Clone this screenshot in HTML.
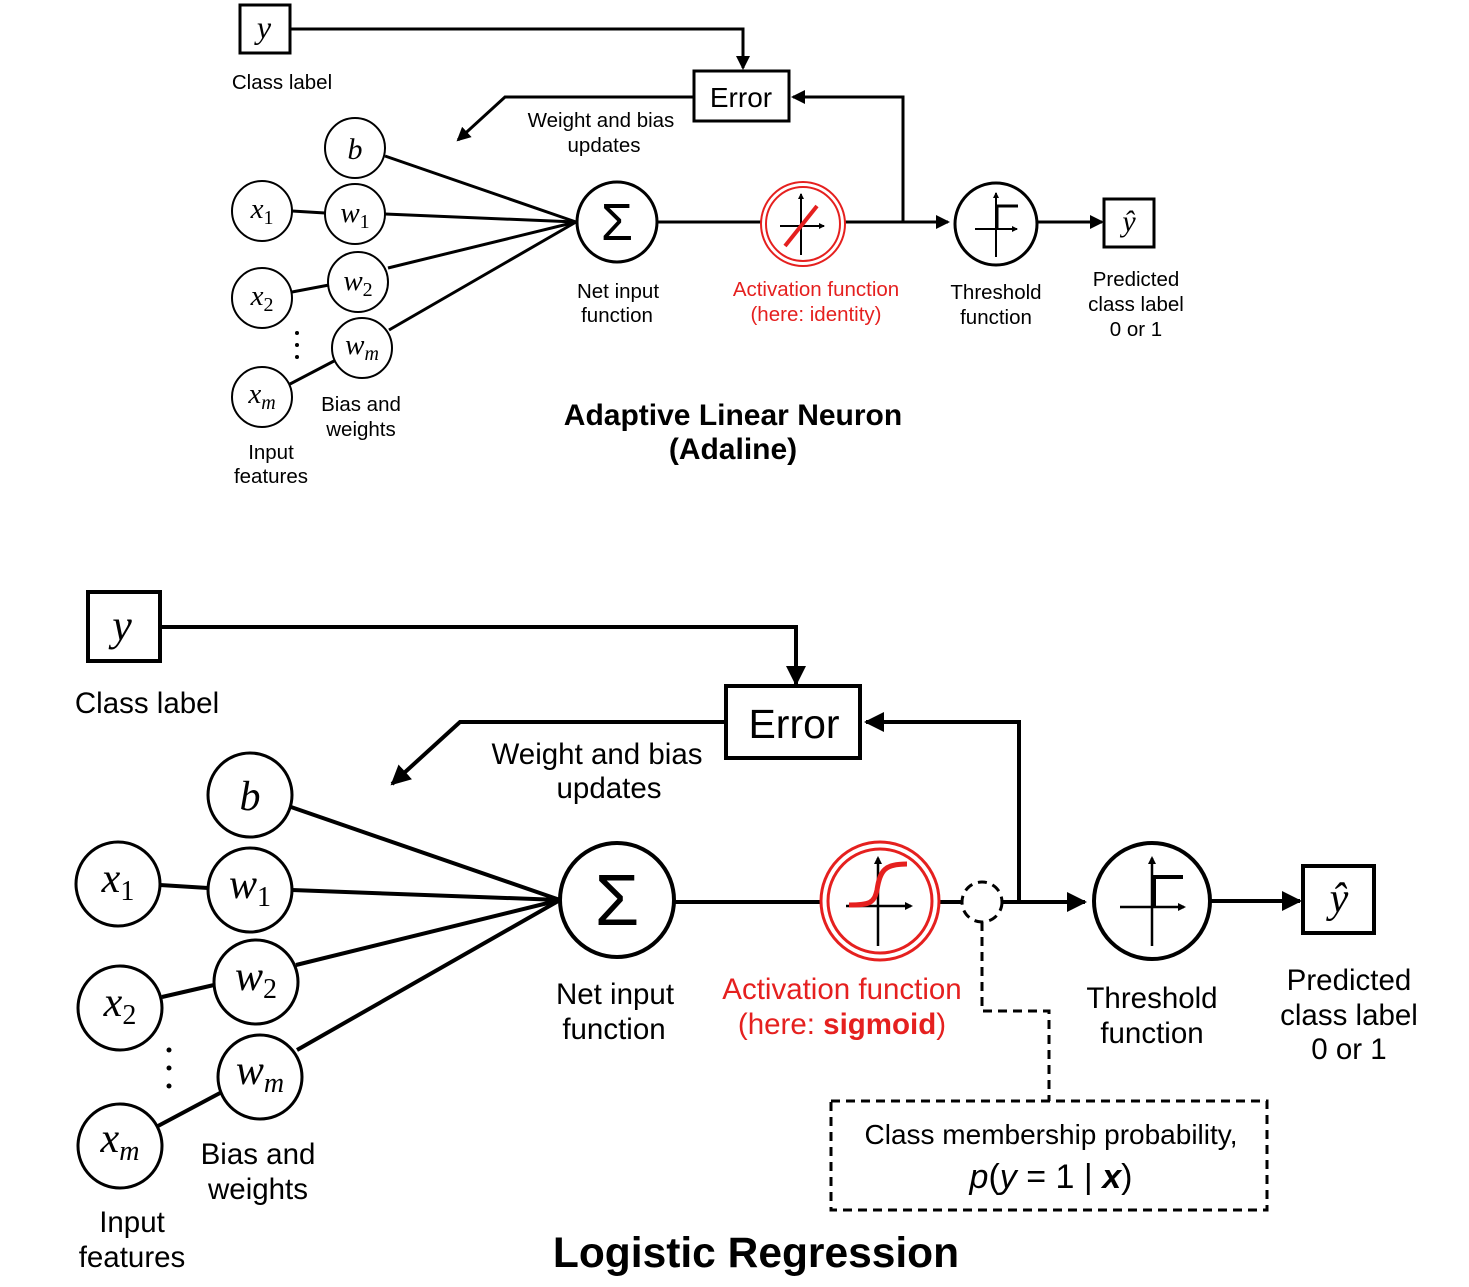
<!DOCTYPE html>
<html><head><meta charset="utf-8"><style>
html,body{margin:0;padding:0;background:#fff}
svg text{font-family:"Liberation Sans",sans-serif}
.s{font-family:"Liberation Serif",serif;font-style:italic}
</style></head><body>
<svg width="1469" height="1282" viewBox="0 0 1469 1282" xmlns="http://www.w3.org/2000/svg">
<defs>
<marker id="a" markerWidth="8" markerHeight="8" refX="6" refY="4" orient="auto" markerUnits="userSpaceOnUse" viewBox="0 0 8 8"><path d="M0,0L8,4L0,8z" fill="#000"/></marker>
<marker id="A" markerWidth="14" markerHeight="14" refX="12" refY="7" orient="auto" markerUnits="userSpaceOnUse"><path d="M0,0L14,7L0,14z" fill="#000"/></marker>
<marker id="B" markerWidth="20" markerHeight="20" refX="18" refY="10" orient="auto" markerUnits="userSpaceOnUse"><path d="M0,0L20,10L0,20z" fill="#000"/></marker>
<marker id="s" markerWidth="6" markerHeight="6" refX="5" refY="3" orient="auto" markerUnits="userSpaceOnUse"><path d="M0,0L6,3L0,6z" fill="#000"/></marker>
</defs>

<!-- TOP -->
<g stroke="#000" stroke-width="3" fill="none">
<rect x="240" y="5" width="50" height="48"/>
<polyline points="290,29 743,29 743,68" marker-end="url(#A)"/>
<rect x="694" y="71" width="95" height="50"/>
<polyline points="694,97 505,97 458,140" marker-end="url(#A)"/>
<polyline points="903,222 903,97 793,97" marker-end="url(#A)"/>
<circle cx="355" cy="148" r="30" stroke-width="2"/>
<circle cx="355" cy="214" r="30" stroke-width="2"/>
<circle cx="358" cy="282" r="30" stroke-width="2"/>
<circle cx="362" cy="348" r="30" stroke-width="2"/>
<circle cx="262" cy="211" r="30" stroke-width="2"/>
<circle cx="262" cy="298" r="30" stroke-width="2"/>
<circle cx="262" cy="397" r="30" stroke-width="2"/>
<line x1="292" y1="211" x2="325" y2="213"/>
<line x1="292" y1="292" x2="329" y2="285"/>
<line x1="290" y1="384" x2="334" y2="361"/>
<line x1="385" y1="156" x2="576" y2="222"/>
<line x1="385" y1="214" x2="576" y2="222"/>
<line x1="388" y1="268" x2="576" y2="222"/>
<line x1="389" y1="330" x2="576" y2="222"/>
<circle cx="617" cy="222" r="40"/>
<line x1="657" y1="222" x2="761" y2="222"/>
<line x1="845" y1="222" x2="948" y2="222" marker-end="url(#A)"/>
<circle cx="996" cy="224" r="41"/>
<line x1="1037" y1="222" x2="1102" y2="222" marker-end="url(#A)"/>
<rect x="1104" y="199" width="50" height="48"/>
</g>
<g fill="#000"><circle cx="297" cy="333" r="2"/><circle cx="297" cy="345" r="2"/><circle cx="297" cy="357" r="2"/></g>
<g fill="none" stroke="#e5201f" stroke-width="2"><circle cx="803" cy="224" r="42"/><circle cx="803" cy="224" r="37"/></g>
<g stroke="#000" stroke-width="2" fill="none">
<line x1="801" y1="255" x2="801" y2="194" marker-end="url(#s)"/>
<line x1="780" y1="226" x2="824" y2="226" marker-end="url(#s)"/>
<line x1="996" y1="257" x2="996" y2="193" marker-end="url(#s)"/>
<line x1="975" y1="229" x2="1017" y2="229" marker-end="url(#s)"/>
<polyline points="997,229 997,206 1018,206" stroke-width="3"/>
</g>
<line x1="785" y1="246" x2="817" y2="206" stroke="#e5201f" stroke-width="4"/>
<text x="617" y="240" font-size="52" text-anchor="middle">Σ</text>
<g font-size="20.5" text-anchor="middle">
<text class="s" x="264" y="38" font-size="32">y</text>
<text x="282" y="89">Class label</text>
<text x="741" y="107" font-size="28">Error</text>
<text x="601" y="127">Weight and bias</text>
<text x="604" y="152">updates</text>
<text x="618" y="298">Net input</text>
<text x="617" y="322">function</text>
<text x="816" y="296" fill="#e5201f">Activation function</text>
<text x="816" y="321" fill="#e5201f">(here: identity)</text>
<text x="996" y="299">Threshold</text>
<text x="996" y="324">function</text>
<text x="1136" y="286">Predicted</text>
<text x="1136" y="311">class label</text>
<text x="1136" y="336">0 or 1</text>
<text x="361" y="411">Bias and</text>
<text x="361" y="436">weights</text>
<text x="271" y="459">Input</text>
<text x="271" y="483">features</text>
<text x="733" y="425" font-size="30" font-weight="bold">Adaptive Linear Neuron</text>
<text x="733" y="459" font-size="30" font-weight="bold">(Adaline)</text>
<text class="s" x="355" y="159" font-size="30">b</text>
<text class="s" x="355" y="222" font-size="29">w<tspan font-size="20" font-style="normal" dy="6">1</tspan></text>
<text class="s" x="358" y="290" font-size="29">w<tspan font-size="20" font-style="normal" dy="6">2</tspan></text>
<text class="s" x="362" y="354" font-size="29">w<tspan font-size="20" dy="6">m</tspan></text>
<text class="s" x="262" y="218" font-size="29">x<tspan font-size="20" font-style="normal" dy="6">1</tspan></text>
<text class="s" x="262" y="305" font-size="29">x<tspan font-size="20" font-style="normal" dy="6">2</tspan></text>
<text class="s" x="262" y="403" font-size="29">x<tspan font-size="20" dy="6">m</tspan></text>
<text class="s" x="1129" y="231" font-size="30">ŷ</text>
</g>

<!-- BOTTOM -->
<g stroke="#000" stroke-width="4" fill="none">
<rect x="88" y="592" width="72" height="69"/>
<polyline points="160,627 796,627 796,684" marker-end="url(#B)"/>
<rect x="726" y="686" width="134" height="72"/>
<polyline points="726,722 460,722 392,784" marker-end="url(#B)"/>
<polyline points="1019,900 1019,722 866,722" marker-end="url(#B)"/>
<g stroke-width="3">
<circle cx="250" cy="795" r="42"/>
<circle cx="250" cy="890" r="42"/>
<circle cx="256" cy="982" r="42"/>
<circle cx="260" cy="1077" r="42"/>
<circle cx="118" cy="884" r="42"/>
<circle cx="120" cy="1008" r="42"/>
<circle cx="120" cy="1146" r="42"/>
</g>
<line x1="160" y1="885" x2="208" y2="888"/>
<line x1="162" y1="997" x2="214" y2="985"/>
<line x1="158" y1="1126" x2="220" y2="1093"/>
<line x1="291" y1="807" x2="560" y2="900"/>
<line x1="292" y1="890" x2="560" y2="900"/>
<line x1="296" y1="965" x2="560" y2="900"/>
<line x1="297" y1="1050" x2="560" y2="900"/>
<circle cx="617" cy="900" r="57"/>
<line x1="674" y1="902" x2="820" y2="902"/>
<line x1="939" y1="902" x2="962" y2="902"/>
<line x1="1002" y1="902" x2="1085" y2="902" marker-end="url(#B)"/>
<circle cx="1152" cy="901" r="58"/>
<line x1="1210" y1="901" x2="1300" y2="901" marker-end="url(#B)"/>
<rect x="1303" y="866" width="71" height="67"/>
</g>
<g fill="#000"><circle cx="169" cy="1050" r="2.5"/><circle cx="169" cy="1068" r="2.5"/><circle cx="169" cy="1086" r="2.5"/></g>
<g fill="none" stroke="#000" stroke-width="3" stroke-dasharray="9,6">
<circle cx="982" cy="902" r="20"/>
<polyline points="982,922 982,1011 1049,1011 1049,1101"/>
<rect x="831" y="1101" width="436" height="109"/>
</g>
<g fill="none" stroke="#e5201f" stroke-width="3"><circle cx="880" cy="901" r="59"/><circle cx="880" cy="901" r="52"/></g>
<g stroke="#000" stroke-width="2.5" fill="none">
<line x1="878" y1="946" x2="878" y2="858" marker-end="url(#a)"/>
<line x1="846" y1="906" x2="911" y2="906" marker-end="url(#a)"/>
<line x1="1152" y1="946" x2="1152" y2="858" marker-end="url(#a)"/>
<line x1="1120" y1="907" x2="1184" y2="907" marker-end="url(#a)"/>
<polyline points="1154,906 1154,877 1183,877" stroke-width="4"/>
</g>
<path d="M849,905 C870,905 874,903 877,890 C880,870 885,864 907,864" stroke="#e5201f" stroke-width="5" fill="none"/>
<text x="617" y="925" font-size="72" text-anchor="middle">Σ</text>
<g font-size="29.5" text-anchor="middle">
<text class="s" x="122" y="640" font-size="44">y</text>
<text x="147" y="713">Class label</text>
<text x="794" y="738" font-size="41">Error</text>
<text x="597" y="764">Weight and bias</text>
<text x="609" y="798">updates</text>
<text x="615" y="1004">Net input</text>
<text x="614" y="1039">function</text>
<text x="842" y="999" fill="#e5201f">Activation function</text>
<text x="842" y="1034" fill="#e5201f">(here: <tspan font-weight="bold">sigmoid</tspan>)</text>
<text x="1152" y="1008">Threshold</text>
<text x="1152" y="1043">function</text>
<text x="1349" y="990">Predicted</text>
<text x="1349" y="1025">class label</text>
<text x="1349" y="1059">0 or 1</text>
<text x="258" y="1164">Bias and</text>
<text x="258" y="1199">weights</text>
<text x="132" y="1232">Input</text>
<text x="132" y="1267">features</text>
<text x="1051" y="1144" font-size="28">Class membership probability,</text>
<text x="1051" y="1188" font-size="34" font-family="Liberation Serif"><tspan font-style="italic">p</tspan>(<tspan font-style="italic">y</tspan> = 1 | <tspan font-style="italic" font-weight="bold">x</tspan>)</text>
<text x="756" y="1267" font-size="42.5" font-weight="bold">Logistic Regression</text>
<text class="s" x="250" y="810" font-size="42">b</text>
<text class="s" x="250" y="898" font-size="42">w<tspan font-size="28" font-style="normal" dy="8">1</tspan></text>
<text class="s" x="256" y="990" font-size="42">w<tspan font-size="28" font-style="normal" dy="8">2</tspan></text>
<text class="s" x="260" y="1084" font-size="42">w<tspan font-size="28" dy="8">m</tspan></text>
<text class="s" x="118" y="892" font-size="42">x<tspan font-size="28" font-style="normal" dy="8">1</tspan></text>
<text class="s" x="120" y="1016" font-size="42">x<tspan font-size="28" font-style="normal" dy="8">2</tspan></text>
<text class="s" x="120" y="1152" font-size="42">x<tspan font-size="28" dy="8">m</tspan></text>
<text class="s" x="1339" y="912" font-size="42">ŷ</text>
</g>
</svg>
</body></html>
